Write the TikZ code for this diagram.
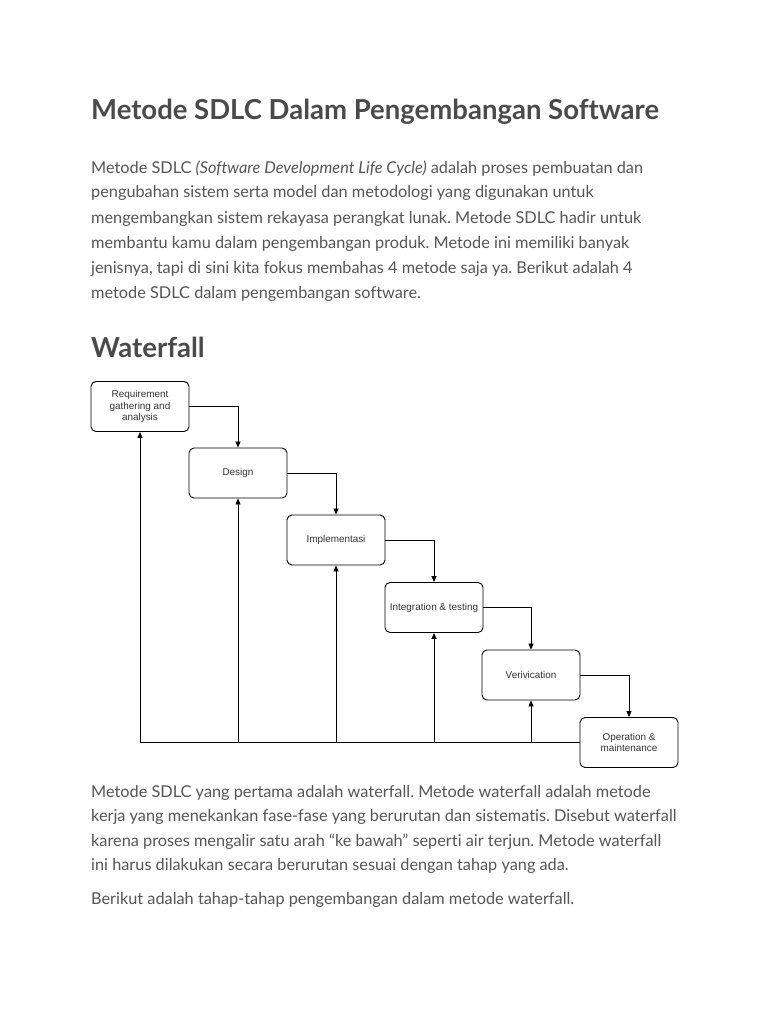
\documentclass[tikz,border=0pt]{standalone}
\usepackage{fontspec}
\setmainfont[Ligatures=NoCommon]{Lato}
\newfontfamily\boxfont{Liberation Sans}
\usetikzlibrary{arrows.meta}
\definecolor{bodytxt}{HTML}{555555}
\definecolor{headtxt}{HTML}{4A4A4A}
\definecolor{boxtxt}{HTML}{333333}
\tikzset{
  heading/.style={anchor=base west, inner sep=0pt, text=headtxt, font=\fontsize{27.5}{32}\selectfont\bfseries},
  bodyline/.style={anchor=base west, inner sep=0pt, text=bodytxt, font=\fontsize{16.3}{20}\selectfont},
  phase/.style={draw=black, line width=0.9pt, rounded corners=5pt, minimum width=98pt, minimum height=50pt,
    align=center, text=boxtxt, font=\boxfont\fontsize{9.9}{11.8}\selectfont, inner sep=2pt},
  flow/.style={draw=black, line width=0.8pt, -{Triangle[length=6pt,width=5pt]}},
  back/.style={draw=black, line width=0.8pt, -{Triangle[length=6pt,width=5pt]}},
  plain/.style={draw=black, line width=0.8pt}
}
\frenchspacing
\begin{document}
\begin{tikzpicture}[x=1pt,y=-1pt]
\useasboundingbox[fill=white] (0,0) rectangle (768,1024);
% headings
\node[heading] (h1) at (91,120) {Metode SDLC Dalam Pengembangan Software};
\node[bodyline] (p1) at (91,174) {Metode SDLC \textit{(Software Development Life Cycle)} adalah proses pembuatan dan};
\node[bodyline] (p2) at (91,198) {pengubahan sistem serta model dan metodologi yang digunakan untuk};
\node[bodyline] (p3) at (91,223) {mengembangkan sistem rekayasa perangkat lunak. Metode SDLC hadir untuk};
\node[bodyline] (p4) at (91,248) {membantu kamu dalam pengembangan produk. Metode ini memiliki banyak};
\node[bodyline] (p5) at (91,273) {jenisnya, tapi di sini kita fokus membahas 4 metode saja ya. Berikut adalah 4};
\node[bodyline] (p6) at (91,298) {metode SDLC dalam pengembangan software.};
\node[heading] (h2) at (91,357) {Waterfall};
% diagram
\node[phase] (req) at (140,406.5) {Requirement\\gathering and\\analysis};
\node[phase] (des) at (238,473) {Design};
\node[phase] (imp) at (336,540) {Implementasi};
\node[phase] (int) at (434,607.5) {Integration \& testing};
\node[phase] (ver) at (531,675) {Verivication};
\node[phase] (ops) at (629,742.5) {Operation \&\\maintenance};
\draw[flow] (req.east) -| (des.north);
\draw[flow] (des.east) -| (imp.north);
\draw[flow] (imp.east) -| (int.north);
\draw[flow] (int.east) -| (ver.north);
\draw[flow] (ver.east) -| (ops.north);
\coordinate (b1) at (140,742);
\coordinate (b2) at (238,742);
\coordinate (b3) at (336,742);
\coordinate (b4) at (434,742);
\coordinate (b5) at (531,742);
\draw[plain] (ops.west |- b1) -- (b1);
\draw[back] (b1) -- (req.south);
\draw[back] (b2) -- (des.south);
\draw[back] (b3) -- (imp.south);
\draw[back] (b4) -- (int.south);
\draw[back] (b5) -- (ver.south);
% bottom paragraph
\node[bodyline] (q1) at (91,797) {Metode SDLC yang pertama adalah waterfall. Metode waterfall adalah metode};
\node[bodyline] (q2) at (91,821) {kerja yang menekankan fase-fase yang berurutan dan sistematis. Disebut waterfall};
\node[bodyline] (q3) at (91,846) {karena proses mengalir satu arah “ke bawah” seperti air terjun. Metode waterfall};
\node[bodyline] (q4) at (91,870) {ini harus dilakukan secara berurutan sesuai dengan tahap yang ada.};
\node[bodyline] (q5) at (91,904) {Berikut adalah tahap-tahap pengembangan dalam metode waterfall.};
\end{tikzpicture}
\end{document}
